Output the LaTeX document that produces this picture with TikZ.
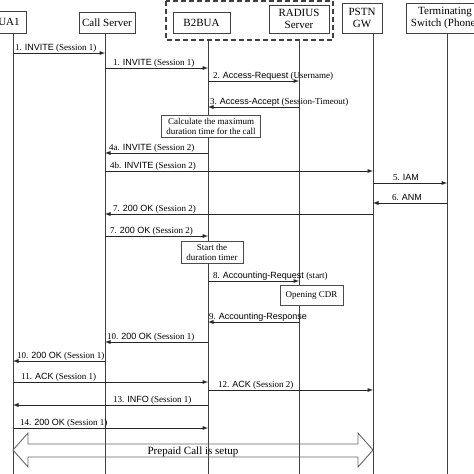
\documentclass[tikz,border=0pt]{standalone}
\usepackage{fontspec}
\setmainfont{Liberation Serif}
\newfontfamily\sansmsg{Liberation Sans}
\tikzset{>=latex}
\tikzset{
  actor/.style={draw=black!75, fill=white, align=center, inner sep=1pt, line width=0.9pt, font=\fontsize{11}{11.5}\selectfont},
  note/.style={draw=black!70, fill=white, align=center, inner sep=1pt, line width=0.8pt, font=\fontsize{9}{10}\selectfont},
  life/.style={black!75, line width=1pt},
  msg/.style={->, black!85, line width=0.9pt},
  lbl/.style={anchor=base west, inner sep=0pt, yshift=3pt, font=\fontsize{9}{9}\selectfont}
}

\begin{document}
\begin{tikzpicture}[x=1pt,y=-1pt]
\useasboundingbox (0,0) rectangle (474,474);

% lifeline positions
\coordinate (lUA) at (13,0);
\coordinate (lCS) at (105,0);
\coordinate (lB2) at (208,0);
\coordinate (lRA) at (299,0);
\coordinate (lPS) at (373,0);
\coordinate (lTE) at (447,0);

% dashed frame round B2BUA and RADIUS
\draw[black!75, line width=1.3pt, dash pattern=on 5pt off 3pt] (166,1) rectangle (333,40);

% headers
\node[actor, minimum width=34pt, minimum height=22pt] (ua1) at (9,22) {UA1};
\node[actor, minimum width=56pt, minimum height=21pt] (cs) at (107,22.5) {Call Server};
\node[actor, minimum width=57pt, minimum height=21pt] (b2bua) at (201.5,22.5) {B2BUA};
\node[actor, minimum width=60pt, minimum height=28pt] (radius) at (299,19) {RADIUS\\Server};
\node[actor, minimum width=40pt, minimum height=30pt] (pstn) at (362,18) {PSTN\\GW};
\node[actor, minimum width=78pt, minimum height=30pt] (term) at (445,18) {Terminating\\Switch (Phone)};

% lifelines
\draw[life] (lUA |- ua1.south) -- (lUA |- 0,474);
\draw[life] (lCS |- cs.south) -- (lCS |- 0,474);
\draw[life] (lB2 |- 0,40) -- (lB2 |- 0,474);
\draw[life] (lRA |- 0,40) -- (lRA |- 0,474);
\draw[life] (lPS |- pstn.south) -- (lPS |- 0,474);
\draw[life] (lTE |- term.south) -- (lTE |- 0,474);

% messages
\draw[msg] (lUA |- 0,53) -- (lCS |- 0,53);
\node[lbl] (m1a) at (15,53) {1. {\sansmsg INVITE} (Session 1)};
\draw[msg] (lCS |- 0,68) -- (lB2 |- 0,68);
\node[lbl] (m1b) at (113,68) {1. {\sansmsg INVITE} (Session 1)};
\draw[msg] (lB2 |- 0,81) -- (lRA |- 0,81);
\node[lbl] (m2) at (213,81) {2. {\sansmsg Access-Request} (Username)};
\draw[msg] (lRA |- 0,107) -- (lB2 |- 0,107);
\node[lbl] (m3) at (210,107) {3. {\sansmsg Access-Accept} (Session-Timeout)};

\node[note, minimum width=99pt, minimum height=22pt] (calc) at (211,126) {Calculate the maximum\\duration time for the call};

\draw[msg] (lB2 |- 0,153) -- (lCS |- 0,153);
\node[lbl] (m4a) at (109,153) {4a. {\sansmsg INVITE} (Session 2)};
\draw[msg] (lCS |- 0,171) -- (lPS |- 0,171);
\node[lbl] (m4b) at (110,171) {4b. {\sansmsg INVITE} (Session 2)};
\draw[msg] (lPS |- 0,183) -- (lTE |- 0,183);
\node[lbl] (m5) at (393,183) {5. {\sansmsg IAM}};
\draw[msg] (lTE |- 0,203) -- (lPS |- 0,203);
\node[lbl] (m6) at (392,203) {6. {\sansmsg ANM}};
\draw[msg] (lPS |- 0,214) -- (lCS |- 0,214);
\node[lbl] (m7a) at (113,214) {7. {\sansmsg 200 OK} (Session 2)};
\draw[msg] (lCS |- 0,236) -- (lB2 |- 0,236);
\node[lbl] (m7b) at (110,236) {7. {\sansmsg 200 OK} (Session 2)};

\node[note, minimum width=62pt, minimum height=22pt] (timer) at (212,252) {Start the\\duration timer};

\draw[msg] (lB2 |- 0,281) -- (lRA |- 0,281);
\node[lbl] (m8) at (213,281) {8. {\sansmsg Accounting-Request} (start)};

\node[note, minimum width=63pt, minimum height=20pt] (cdr) at (311.5,295) {Opening CDR};

\draw[msg] (lRA |- 0,322) -- (lB2 |- 0,322);
\node[lbl] (m9) at (209,322) {9. {\sansmsg Accounting-Response}};
\draw[msg] (lB2 |- 0,342) -- (lCS |- 0,342);
\node[lbl] (m10a) at (107,342) {10. {\sansmsg 200 OK} (Session 1)};
\draw[msg] (lCS |- 0,361) -- (lUA |- 0,361);
\node[lbl] (m10b) at (17,361) {10. {\sansmsg 200 OK} (Session 1)};
\draw[msg] (lUA |- 0,382) -- (lB2 |- 0,382);
\node[lbl] (m11) at (21,382) {11. {\sansmsg ACK} (Session 1)};
\draw[msg] (lB2 |- 0,390) -- (lPS |- 0,390);
\node[lbl] (m12) at (218,390) {12. {\sansmsg ACK} (Session 2)};
\draw[msg] (lB2 |- 0,405) -- (lUA |- 0,405);
\node[lbl] (m13) at (113,405) {13. {\sansmsg INFO} (Session 1)};
\draw[msg] (lUA |- 0,428) -- (lB2 |- 0,428);
\node[lbl] (m14) at (20,428) {14. {\sansmsg 200 OK} (Session 1)};

% hollow double arrow
\draw[black!60, line width=0.9pt] (lUA |- 0,450) -- (28,433) -- (28,444) -- (358,444) -- (358,433)
  -- (lPS |- 0,450) -- (358,467) -- (358,457) -- (28,457) -- (28,467) -- cycle;
\node[anchor=base, inner sep=0pt, font=\fontsize{11}{11}\selectfont] (setup) at (193,454) {Prepaid Call is setup};
\end{tikzpicture}
\end{document}
